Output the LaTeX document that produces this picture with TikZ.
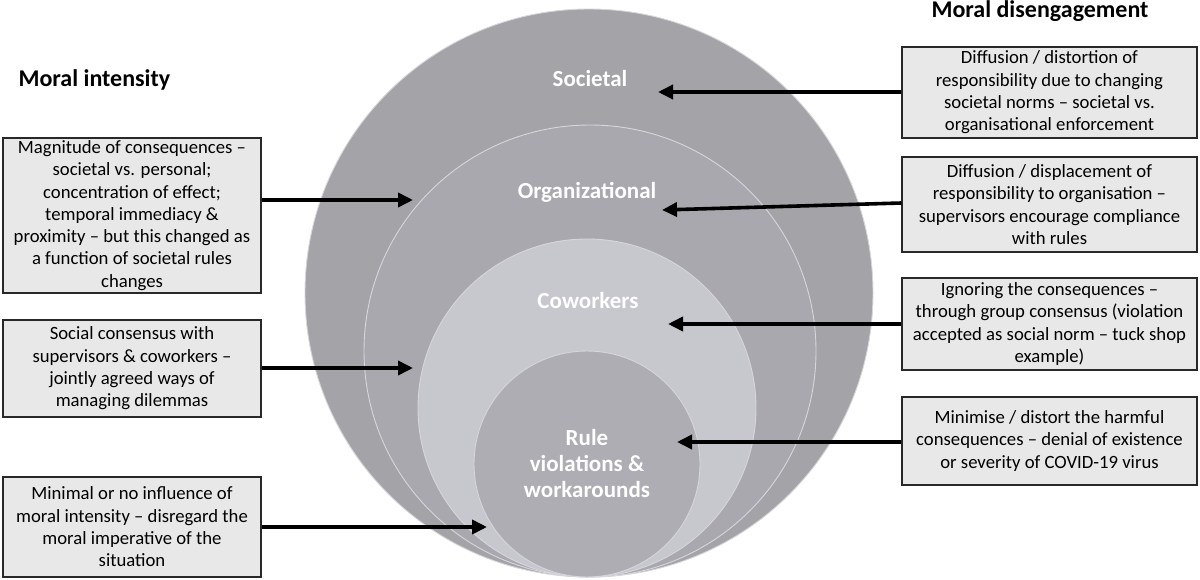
\documentclass[tikz,border=0pt]{standalone}
\usepackage{fontspec}
\setmainfont{Carlito}
\usepackage{tikz}
\usetikzlibrary{arrows.meta}
\definecolor{ringA}{RGB}{163,163,168}
\definecolor{ringB}{RGB}{168,168,174}
\definecolor{ringC}{RGB}{199,199,206}
\definecolor{ringD}{RGB}{173,173,179}
\definecolor{rimgrey}{RGB}{214,214,220}
\definecolor{boxgrey}{RGB}{232,232,232}
\tikzset{
  boxnode/.style={draw={rgb,255:red,40;green,40;blue,40}, line width=1.4pt, fill=boxgrey, align=center, inner sep=0pt, font=\fontsize{18.7}{22.3}\selectfont},
  ringnode/.style={shape=circle, draw=rimgrey, line width=0.9pt, inner sep=0pt},
  ringlabel/.style={text=white, align=center, font=\bfseries\fontsize{23}{26}\selectfont},
  arrowline/.style={line width=3.6pt, -{Triangle[length=15pt,width=14pt]}}
}
\begin{document}
\begin{tikzpicture}[x=1pt,y=-1pt]
			\useasboundingbox (0,0) rectangle (1200,580);
			% Rings, largest first:
			\node[ringnode, fill=ringA, minimum size=568pt](Ellipse1) at (589,293){};
			\node[ringnode, fill=ringB, minimum size=452pt](Ellipse2) at (590,351){};
			\node[ringnode, fill=ringC, minimum size=338pt](Ellipse3) at (587,408){};
			\node[ringnode, fill=ringD, minimum size=226pt](Ellipse4) at (587,464){};
			\node[ringlabel](Label1) at (590,79){Societal};
			\node[ringlabel](Label2) at (587,192){Organizational};
			\node[ringlabel](Label3) at (588,301){Coworkers};
			\node[ringlabel](Label4) at (587,464){Rule\\violations \&\\workarounds};
			% Headings:
			\node[font=\bfseries\fontsize{24}{28}\selectfont, anchor=west](Title1) at (15,80){Moral intensity};
			\node[font=\bfseries\fontsize{24}{28}\selectfont](Title2) at (1040,11){Moral disengagement};
			% Boxes on the left:
			\node[boxnode, minimum width=258pt, minimum height=155pt](Rectangle1) at (132,215.5){Magnitude of consequences --\\societal vs. personal;\\concentration of effect;\\temporal immediacy \&\\proximity -- but this changed as\\a function of societal rules\\changes};
			\node[boxnode, minimum width=258pt, minimum height=97pt](Rectangle2) at (132,368.5){Social consensus with\\supervisors \& coworkers --\\jointly agreed ways of\\managing dilemmas};
			\node[boxnode, minimum width=258pt, minimum height=100pt](Rectangle3) at (132,527){Minimal or no influence of\\moral intensity -- disregard the\\moral imperative of the\\situation};
			% Boxes on the right:
			\node[boxnode, minimum width=295pt, minimum height=91pt](Rectangle4) at (1049.5,92.5){Diffusion / distortion of\\responsibility due to changing\\societal norms -- societal vs.\\organisational enforcement};
			\node[boxnode, minimum width=295pt, minimum height=95pt](Rectangle5) at (1049.5,204.5){Diffusion / displacement of\\responsibility to organisation --\\supervisors encourage compliance\\with rules};
			\node[boxnode, minimum width=295pt, minimum height=92pt](Rectangle6) at (1049.5,324){Ignoring the consequences --\\through group consensus (violation\\accepted as social norm -- tuck shop\\example)};
			\node[boxnode, minimum width=295pt, minimum height=88pt](Rectangle7) at (1049.5,441){Minimise / distort the harmful\\consequences -- denial of existence\\or severity of COVID-19 virus};
			% Arrow tips:
			\coordinate (Tip1) at (413,200);
			\coordinate (Tip2) at (413,368);
			\coordinate (Tip3) at (487,527);
			\coordinate (Tip4) at (658,92);
			\coordinate (Tip5) at (662,210);
			\coordinate (Tip6) at (668,324);
			\coordinate (Tip7) at (677,442);
			\draw[arrowline] (Rectangle1.east |- Tip1) -- (Tip1);
			\draw[arrowline] (Rectangle2.east |- Tip2) -- (Tip2);
			\draw[arrowline] (Rectangle3.east |- Tip3) -- (Tip3);
			\draw[arrowline] (Rectangle4.west |- Tip4) -- (Tip4);
			\draw[arrowline] ([yshift=1.5pt]Rectangle5.west) -- (Tip5);
			\draw[arrowline] (Rectangle6.west |- Tip6) -- (Tip6);
			\draw[arrowline] (Rectangle7.west |- Tip7) -- (Tip7);
		\end{tikzpicture}
\end{document}
